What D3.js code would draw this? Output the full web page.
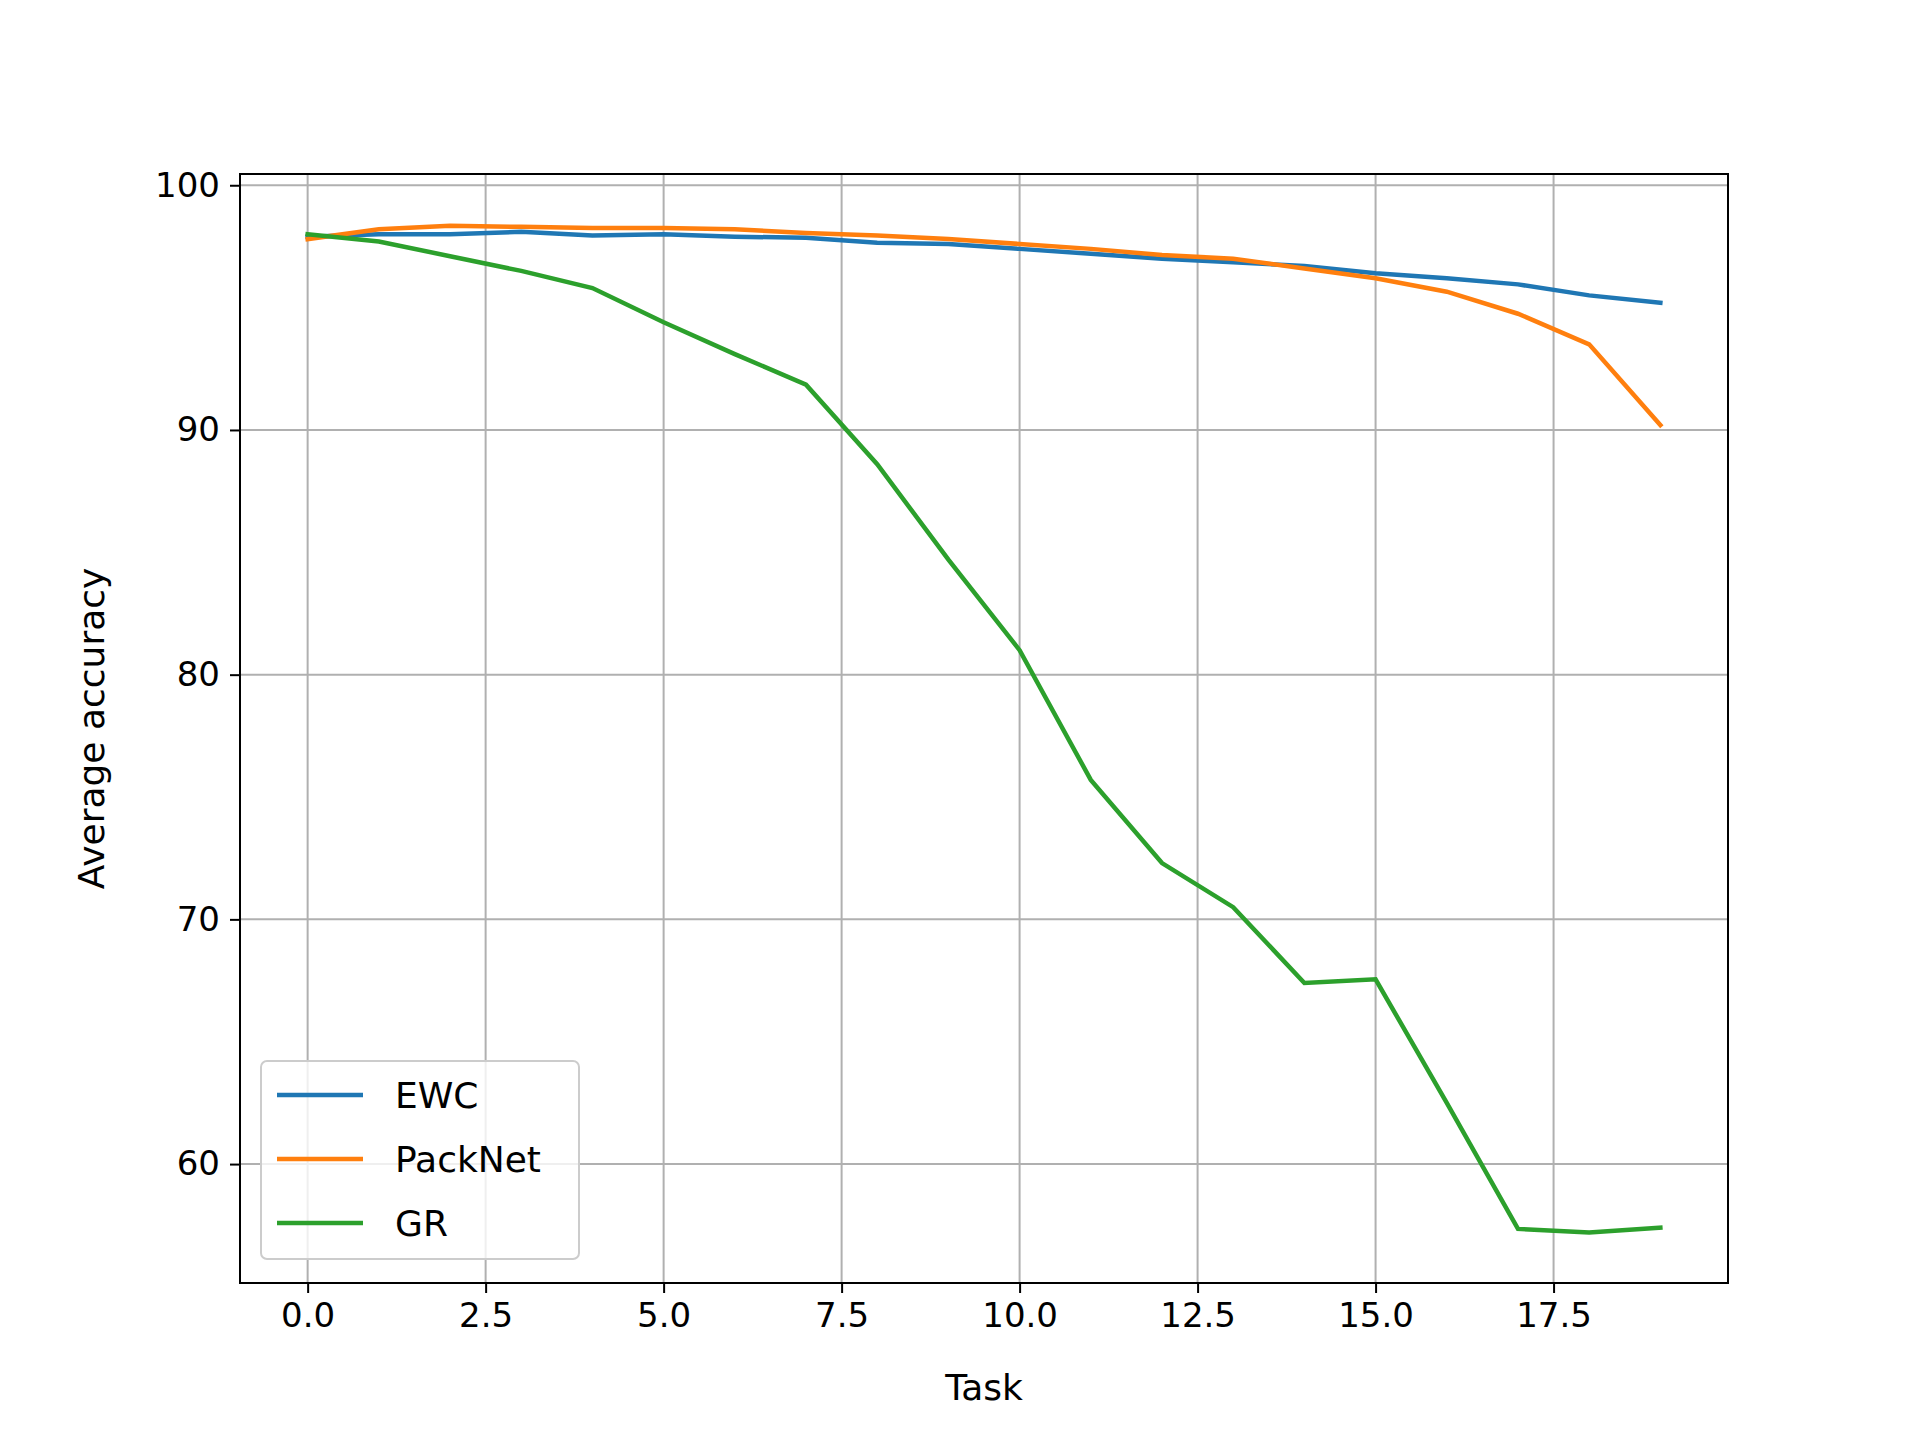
<!DOCTYPE html>
<html>
<head>
<meta charset="utf-8">
<script src="https://cdn.jsdelivr.net/npm/d3@7"></script>
<style>
  body { margin: 0; background: #fff; }
  text { font-family: "DejaVu Sans", sans-serif; fill: #000; }
</style>
</head>
<body>
<svg id="chart" width="1920" height="1440"></svg>
<script>
var tasks = d3.range(0, 20);
var ewc = [97.9, 98.0, 98.0, 98.1, 97.95, 98.0, 97.9, 97.85, 97.65, 97.6, 97.4, 97.2, 97.0, 96.85, 96.7, 96.4, 96.2, 95.95, 95.5, 95.2];
var packnet = [97.8, 98.2, 98.35, 98.3, 98.25, 98.25, 98.2, 98.05, 97.95, 97.8, 97.6, 97.4, 97.15, 97.0, 96.6, 96.2, 95.65, 94.75, 93.5, 90.2];
var gr = [98.0, 97.7, 97.1, 96.5, 95.8, 94.4, 93.1, 91.85, 88.6, 84.7, 81.0, 75.7, 72.3, 70.5, 67.4, 67.55, 62.5, 57.35, 57.2, 57.4];
var xTicks = [0, 2.5, 5, 7.5, 10, 12.5, 15, 17.5];
var yTicks = [60, 70, 80, 90, 100];
var series = [
  {name: "EWC", values: ewc, color: "#1f77b4"},
  {name: "PackNet", values: packnet, color: "#ff7f0e"},
  {name: "GR", values: gr, color: "#2ca02c"}
];

var svg = d3.select("#chart");
var L = 240, R = 1728, T = 174, B = 1283;

var x = d3.scaleLinear().domain([-0.95, 19.95]).range([L, R]);
var y = d3.scaleLinear().domain([55.14, 100.46]).range([B, T]);

// grid
svg.append("g").selectAll("line").data(xTicks).join("line")
  .attr("x1", d => x(d)).attr("x2", d => x(d)).attr("y1", T).attr("y2", B)
  .attr("stroke", "#b0b0b0").attr("stroke-width", 2);
svg.append("g").selectAll("line").data(yTicks).join("line")
  .attr("x1", L).attr("x2", R).attr("y1", d => y(d)).attr("y2", d => y(d))
  .attr("stroke", "#b0b0b0").attr("stroke-width", 2);

// lines
var line = d3.line().x((d, i) => x(tasks[i])).y(d => y(d));
svg.append("g").selectAll("path").data(series).join("path")
  .attr("d", d => line(d.values))
  .attr("fill", "none").attr("stroke", d => d.color)
  .attr("stroke-width", 4.5).attr("stroke-linecap", "square");

// axes
var xAxis = svg.append("g").attr("transform", "translate(0," + B + ")")
  .call(d3.axisBottom(x).tickValues(xTicks).tickFormat(d3.format(".1f")).tickSize(10).tickPadding(10));
var yAxis = svg.append("g").attr("transform", "translate(" + L + ",0)")
  .call(d3.axisLeft(y).tickValues(yTicks).tickFormat(d3.format("d")).tickSize(10).tickPadding(10));
[xAxis, yAxis].forEach(function(a) {
  a.select(".domain").remove();
  a.selectAll(".tick line").attr("stroke", "#000").attr("stroke-width", 2);
  a.selectAll(".tick text").style("font-size", "34px").style("font-family", "DejaVu Sans");
});

svg.append("rect").attr("x", L).attr("y", T).attr("width", R - L).attr("height", B - T)
  .attr("fill", "none").attr("stroke", "#000").attr("stroke-width", 2);

svg.append("text").attr("x", (L + R) / 2).attr("y", 1400).attr("text-anchor", "middle")
  .style("font-size", "36px").text("Task");
svg.append("text").attr("transform", "translate(104," + (T + B) / 2 + ") rotate(-90)")
  .attr("text-anchor", "middle").style("font-size", "36px").text("Average accuracy");

// legend
var lg = svg.append("g").attr("transform", "translate(261,1061)");
lg.append("rect").attr("width", 318).attr("height", 198).attr("rx", 6)
  .attr("fill", "#fff").attr("fill-opacity", 0.8).attr("stroke", "#ccc").attr("stroke-width", 2);
var items = lg.selectAll("g.item").data(series).join("g")
  .attr("transform", (d, i) => "translate(0," + (34 + i * 64) + ")");
items.append("line").attr("x1", 16).attr("x2", 102)
  .attr("stroke", d => d.color).attr("stroke-width", 4.5);
items.append("text").attr("x", 134).attr("dy", "0.36em").style("font-size", "36px").text(d => d.name);
</script>
</body>
</html>
